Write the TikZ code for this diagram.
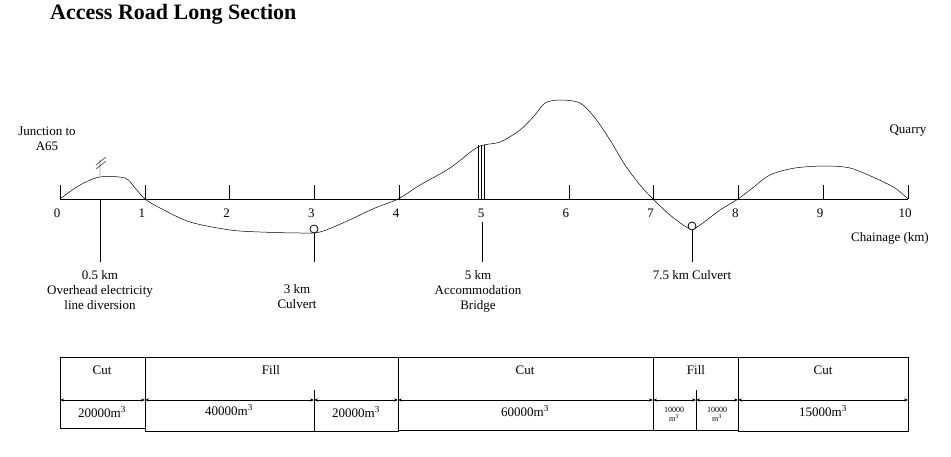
\documentclass[tikz,border=0pt]{standalone}
\usepackage{fontspec}
\setmainfont{Liberation Serif}
\usetikzlibrary{arrows.meta}
\begin{document}
\begin{tikzpicture}[x=1pt,y=-1pt,
  lbl/.style={font=\fontsize{13}{15}\selectfont,align=center,inner sep=0pt},
  vol/.style={font=\fontsize{13}{15}\selectfont,inner sep=0pt},
  tiny/.style={font=\fontsize{8}{9}\selectfont,align=center,inner sep=0pt},
  dim/.style={{Stealth[length=4pt,width=3pt]}-{Stealth[length=4pt,width=3pt]},line width=0.4pt}]
\useasboundingbox (0,0) rectangle (951,457);
\node[anchor=west,font=\bfseries\fontsize{22}{26}\selectfont,inner sep=0pt] (title) at (50,14) {Access Road Long Section};
% axis
\coordinate (a0) at (60,199); \coordinate (a10) at (908,199);
\draw (a0) -- (a10);
\foreach \i in {0,...,10}{
  \coordinate (t\i) at ({60+84.8*\i},199);
  \draw (t\i) -- ++(0,-14);
  \node[lbl] (n\i) at ({60+84.8*\i-3},213) {\i};
}
% profile
\draw[line width=0.5pt] plot[smooth,tension=0.5] coordinates {(60,199)(80,185)(100,177)(125,178)(135,188)(145,199)(160,208)(190,222)(230,230)(260,232)(300,233)(320,232)(345,222)(375,208)(398,199)(420,185)(450,168)(478,147)(500,142)(520,130)(535,115)(545,103)(560,100)(580,103)(595,118)(610,140)(625,165)(640,185)(653,199)(670,215)(690,229)(700,225)(720,210)(738,199)(750,190)(770,175)(795,168)(825,166)(850,168)(875,178)(895,188)(908,199)};
% bridge
\draw (478,145) -- (478,199) (481,145) -- (481,199) (484,145) -- (484,199);
% culverts
\node[circle,draw,line width=0.8pt,minimum size=8pt,inner sep=0pt,fill=white] (c3) at (314,229) {};
\node[circle,draw,line width=0.8pt,minimum size=8pt,inner sep=0pt,fill=white] (c75) at (692,226) {};
% electricity
\draw (100,177) -- (100,160) (96,165) -- (106,157) (96,169) -- (106,161);
% drop lines
\draw (100,199) -- (100,262);
\draw (c3) -- (314,262);
\draw (482,222) -- (482,262);
\draw (c75) -- (692,262);
\node[lbl,anchor=north] (l05) at (100,270) {0.5 km\\Overhead electricity\\line diversion};
\node[lbl,anchor=north] (l3) at (297,284) {3 km\\Culvert};
\node[lbl,anchor=north] (l5) at (478,270) {5 km\\Accommodation\\Bridge};
\node[lbl,anchor=north] (l75) at (692,270) {7.5 km Culvert};
\node[lbl] (jn) at (47,139) {Junction to\\A65};
\node[lbl] (q) at (908,131) {Quarry};
\node[lbl] (ch) at (890,238) {Chainage (km)};
% table
\draw (60,357) rectangle (145,428);
\draw (145,357) rectangle (398,431);
\draw (398,357) rectangle (653,430);
\draw (653,357) rectangle (738,430);
\draw (738,357) rectangle (908,431);
\draw (314,390) -- (314,431);
\draw (696,390) -- (696,430);
\foreach \a/\b in {60/145,145/314,314/398,398/653,653/696,696/738,738/908}{
  \draw[dim] (\a,400) -- (\b,400);
}
\node[lbl] (h1) at (102,370) {Cut};
\node[lbl] (h2) at (271,370) {Fill};
\node[lbl] (h3) at (525,370) {Cut};
\node[lbl] (h4) at (696,370) {Fill};
\node[lbl] (h5) at (823,370) {Cut};
\node[vol] (v1) at (102,412) {20000m\textsuperscript{3}};
\node[vol] (v2) at (229,410) {40000m\textsuperscript{3}};
\node[vol] (v3) at (356,412) {20000m\textsuperscript{3}};
\node[vol] (v4) at (525,411) {60000m\textsuperscript{3}};
\node[tiny] (v5) at (674,414) {10000\\m\textsuperscript{3}};
\node[tiny] (v6) at (717,414) {10000\\m\textsuperscript{3}};
\node[vol] (v7) at (823,411) {15000m\textsuperscript{3}};
\end{tikzpicture}
\end{document}
